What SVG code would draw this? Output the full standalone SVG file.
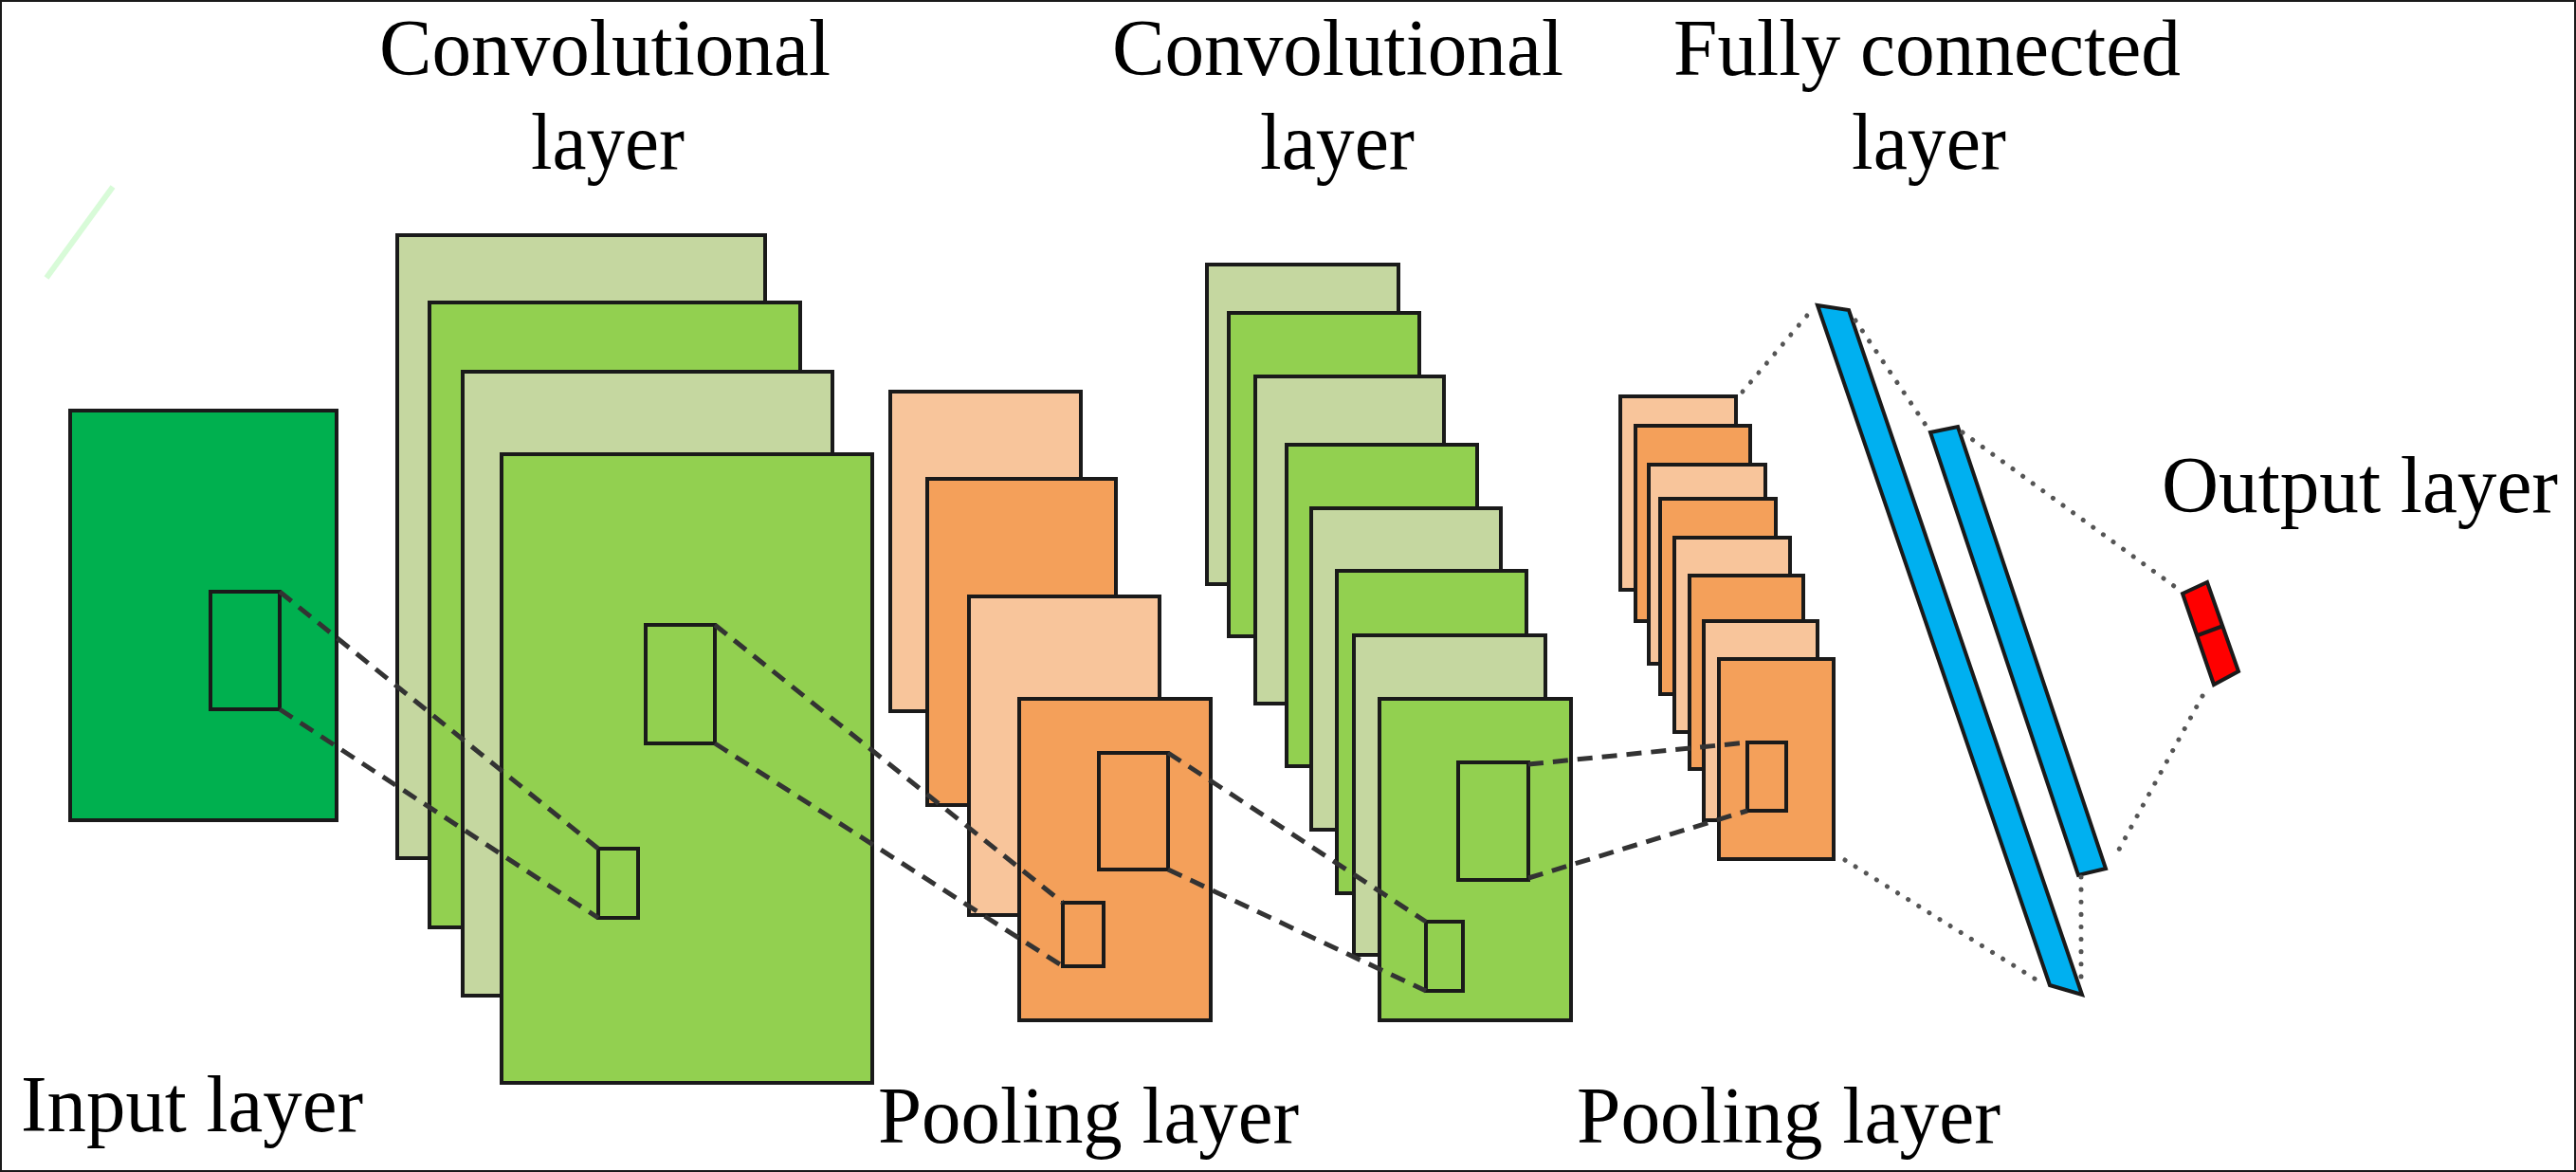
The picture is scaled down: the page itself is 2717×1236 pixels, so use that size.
<svg xmlns="http://www.w3.org/2000/svg" width="2717" height="1236" viewBox="0 0 2717 1236">
<style>
rect,polygon{stroke:#1a1a1a;stroke-width:4;stroke-linejoin:miter}
.in{fill:#00b04f}.cl{fill:#c5d7a0}.cg{fill:#92d050}.pl{fill:#f8c59b}.pd{fill:#f4a05a}
.fc{fill:#00b0f0}.out{fill:#ff0000}.win{fill:none}
.dash{stroke:#333;stroke-width:5;stroke-dasharray:16 10;fill:none}
.dot{stroke:#555;stroke-width:5;stroke-dasharray:0.1 13;stroke-linecap:round;fill:none}
text{font-family:"Liberation Serif","Times New Roman",serif;font-size:84px;fill:#000}
</style>
<rect width="2717" height="1236" fill="#fff" stroke="none"/>
<line x1="119" y1="197" x2="49" y2="293" stroke="#d8fbd8" stroke-width="6"/>
<g id="input-layer">
<rect class="in" x="74" y="433" width="281" height="432"/>
<rect class="win" x="222" y="624" width="73" height="124"/>
</g>
<g id="conv1">
<rect class="cl" x="419" y="248" width="388" height="657"/>
<rect class="cg" x="453" y="319" width="391" height="659"/>
<rect class="cl" x="488" y="392" width="390" height="658"/>
<rect class="cg" x="529" y="479" width="391" height="663"/>
<rect class="win" x="681" y="659" width="73" height="125"/>
<rect class="win" x="631" y="895" width="42" height="73"/>
</g>
<g id="pool1">
<rect class="pl" x="939" y="413" width="201" height="337"/>
<rect class="pd" x="978" y="505" width="199" height="344"/>
<rect class="pl" x="1022" y="629" width="201" height="336"/>
<rect class="pd" x="1075" y="737" width="202" height="339"/>
<rect class="win" x="1159" y="794" width="73" height="123"/>
<rect class="win" x="1121" y="952" width="43" height="67"/>
</g>
<g id="conv2">
<rect class="cl" x="1273" y="279" width="202" height="337"/>
<rect class="cg" x="1296" y="330" width="201" height="341"/>
<rect class="cl" x="1324" y="397" width="199" height="345"/>
<rect class="cg" x="1357" y="469" width="201" height="339"/>
<rect class="cl" x="1383" y="536" width="200" height="339"/>
<rect class="cg" x="1410" y="602" width="200" height="340"/>
<rect class="cl" x="1428" y="670" width="202" height="337"/>
<rect class="cg" x="1455" y="737" width="202" height="339"/>
<rect class="win" x="1538" y="804" width="74" height="124"/>
<rect class="win" x="1504" y="972" width="39" height="73"/>
</g>
<g id="pool2">
<rect class="pl" x="1709" y="418" width="122" height="204"/>
<rect class="pd" x="1725" y="449" width="121" height="206"/>
<rect class="pl" x="1739" y="490" width="123" height="210"/>
<rect class="pd" x="1751" y="526" width="122" height="206"/>
<rect class="pl" x="1766" y="567" width="122" height="205"/>
<rect class="pd" x="1782" y="607" width="120" height="204"/>
<rect class="pl" x="1797" y="655" width="120" height="210"/>
<rect class="pd" x="1813" y="695" width="121" height="211"/>
<rect class="win" x="1843" y="783" width="41" height="72"/>
</g>
<g id="fc1"><polygon class="fc" points="1917,322 1950,327 2196,1049 2162,1039"/></g>
<g id="fc2"><polygon class="fc" points="2036,456 2065,450 2221,916 2192,923"/></g>
<g id="output-layer">
<polygon class="out" points="2302,626 2328,614 2361,708 2335,722"/>
<line x1="2318" y1="670" x2="2345" y2="660" stroke="#1a1a1a" stroke-width="4"/>
</g>
<g id="connectors">
<line class="dash" x1="295" y1="624" x2="631" y2="895"/>
<line class="dash" x1="295" y1="748" x2="631" y2="968"/>
<line class="dash" x1="754" y1="659" x2="1121" y2="952"/>
<line class="dash" x1="754" y1="784" x2="1121" y2="1019"/>
<line class="dash" x1="1232" y1="794" x2="1504" y2="972"/>
<line class="dash" x1="1232" y1="917" x2="1504" y2="1045"/>
<line class="dash" x1="1612" y1="806" x2="1843" y2="783"/>
<line class="dash" x1="1612" y1="926" x2="1843" y2="855"/>
<line class="dot" x1="1838" y1="413" x2="1910" y2="328"/>
<line class="dot" x1="1946" y1="907" x2="2157" y2="1039"/>
<line class="dot" x1="1957" y1="338" x2="2033" y2="451"/>
<line class="dot" x1="2195" y1="925" x2="2195" y2="1035"/>
<line class="dot" x1="2070" y1="456" x2="2293" y2="618"/>
<line class="dot" x1="2323" y1="734" x2="2230" y2="905"/>
</g>
<g id="labels">
<text x="400" y="79" textLength="476" lengthAdjust="spacingAndGlyphs">Convolutional</text>
<text x="560" y="178" textLength="162" lengthAdjust="spacingAndGlyphs">layer</text>
<text x="1173" y="79" textLength="476" lengthAdjust="spacingAndGlyphs">Convolutional</text>
<text x="1329" y="178" textLength="163" lengthAdjust="spacingAndGlyphs">layer</text>
<text x="1765" y="79" textLength="535" lengthAdjust="spacingAndGlyphs">Fully connected</text>
<text x="1953" y="178" textLength="163" lengthAdjust="spacingAndGlyphs">layer</text>
<text x="2280" y="540" textLength="418" lengthAdjust="spacingAndGlyphs">Output layer</text>
<text x="22" y="1193" textLength="361" lengthAdjust="spacingAndGlyphs">Input layer</text>
<text x="926" y="1205" textLength="444" lengthAdjust="spacingAndGlyphs">Pooling layer</text>
<text x="1663" y="1205" textLength="447" lengthAdjust="spacingAndGlyphs">Pooling layer</text>
</g>
</svg>
